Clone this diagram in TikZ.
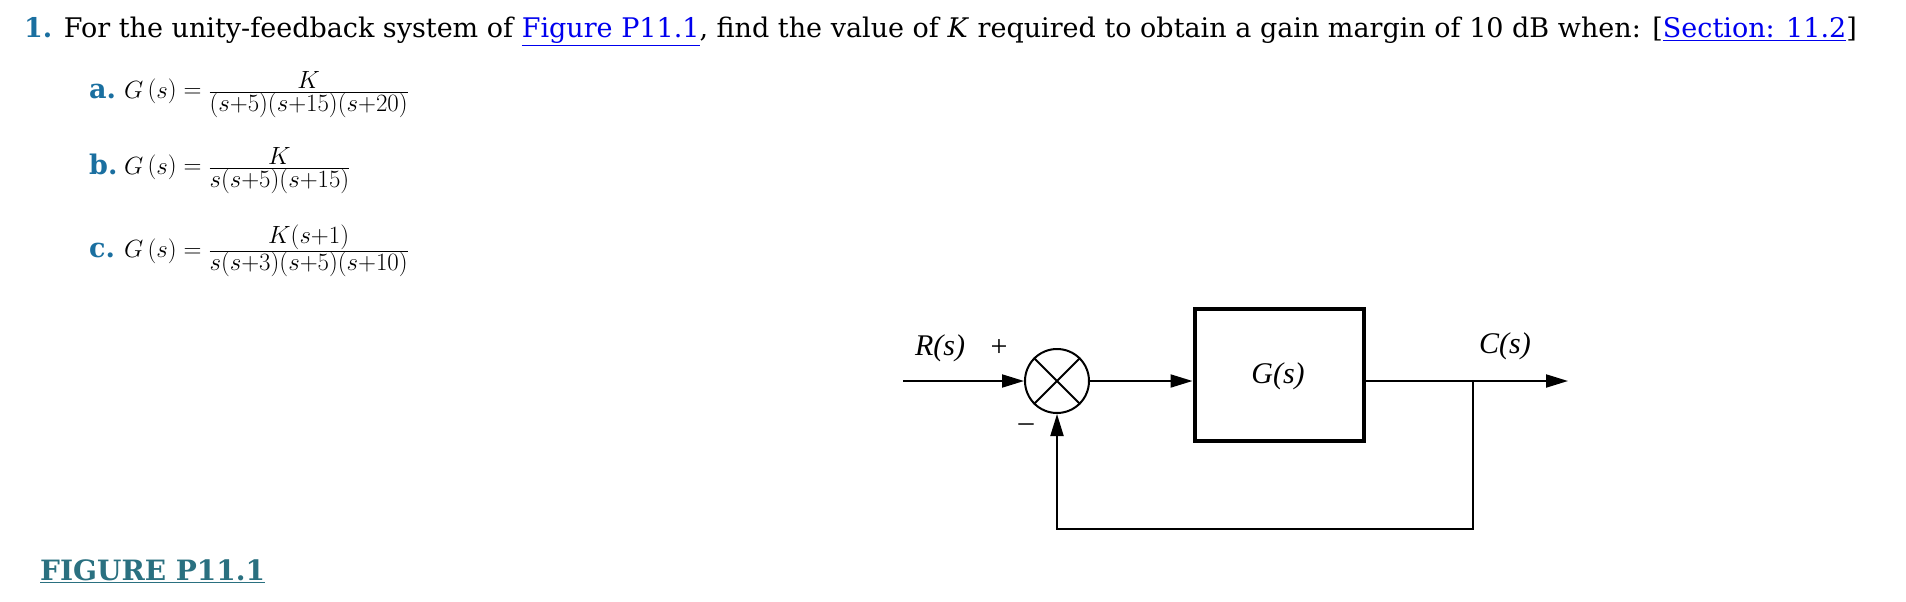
\documentclass[tikz,border=0pt]{standalone}
\usepackage{fontspec}
\setmainfont{DejaVu Serif}
\newfontfamily\dfont{Liberation Serif}
\usetikzlibrary{arrows.meta}
\definecolor{lbl}{HTML}{1A6FA0}
\definecolor{lnk}{HTML}{0000EE}
\definecolor{fig}{HTML}{2A7080}
\newcommand{\ul}[1]{\underline{#1}}
\tikzset{
  txt/.style={anchor=base west,inner sep=0pt,font=\fontsize{27}{30}\selectfont},
  eq/.style={anchor=base west,inner sep=0pt,font=\fontsize{44}{46}\selectfont},
  wire/.style={line width=2pt},
  arr/.style={wire,-{Triangle[length=22pt,width=13pt]}},
  dlab/.style={font=\fontsize{30}{32}\selectfont\dfont\itshape,inner sep=0pt}
}
\begin{document}
\begin{tikzpicture}[x=1pt,y=-1pt]
\useasboundingbox (0,0) rectangle (1906,602);
\node[txt] (q) at (24,38) {\textcolor{lbl}{\textbf{1.}} For the unity-feedback system of \textcolor{lnk}{\ul{Figure P11.1}}, find the value of \textit{K} required to obtain a gain margin of 10 dB when: [\textcolor{lnk}{\ul{Section: 11.2}}]};
\node[txt] (al) at (89,98) {\textcolor{lbl}{\textbf{a.}}};
\node[eq] (a) at (124,98) {$G\left(s\right)=\frac{K}{(s+5)(s+15)(s+20)}$};
\node[txt] (bl) at (89,174) {\textcolor{lbl}{\textbf{b.}}};
\node[eq] (b) at (124,174) {$G\left(s\right)=\frac{K}{s(s+5)(s+15)}$};
\node[txt] (cl) at (89,257) {\textcolor{lbl}{\textbf{c.}}};
\node[eq] (c) at (124,257) {$G\left(s\right)=\frac{K(s+1)}{s(s+3)(s+5)(s+10)}$};
\node[txt,font=\fontsize{28}{30}\selectfont,text=fig] (f) at (40,580) {\textbf{\ul{FIGURE P11.1}}};
% diagram
\node[circle,draw,line width=2pt,minimum size=64pt,inner sep=0pt] (sum) at (1057,381) {};
\draw[wire] (sum.north west) -- (sum.south east) (sum.north east) -- (sum.south west);
\node[draw,line width=4pt,minimum width=169pt,minimum height=132pt,inner sep=0pt] (g) at (1279,375) {};
\node[dlab] (gl) at (1278,376) {G(s)};
\coordinate (in) at (903,381);
\coordinate (br) at (1473,381);
\coordinate (out) at (1568,381);
\coordinate (bl) at (1473,529);
\coordinate (bm) at (1057,529);
\draw[arr] (in) -- (sum.west);
\draw[arr] (sum.east) -- (g.west |- sum.east);
\draw[wire] (g.east |- br) -- (br);
\draw[arr] (br) -- (out);
\draw[arr] (br) -- (bl) -- (bm) -- (sum.south);
\node[dlab] (r) at (940,348) {R(s)};
\node[dlab,font=\fontsize{30}{32}\selectfont\dfont] (p) at (999,348) {+};
\node[dlab,font=\fontsize{30}{32}\selectfont\dfont] (m) at (1026,428) {–};
\node[dlab] (cs) at (1505,346) {C(s)};
\end{tikzpicture}
\end{document}
